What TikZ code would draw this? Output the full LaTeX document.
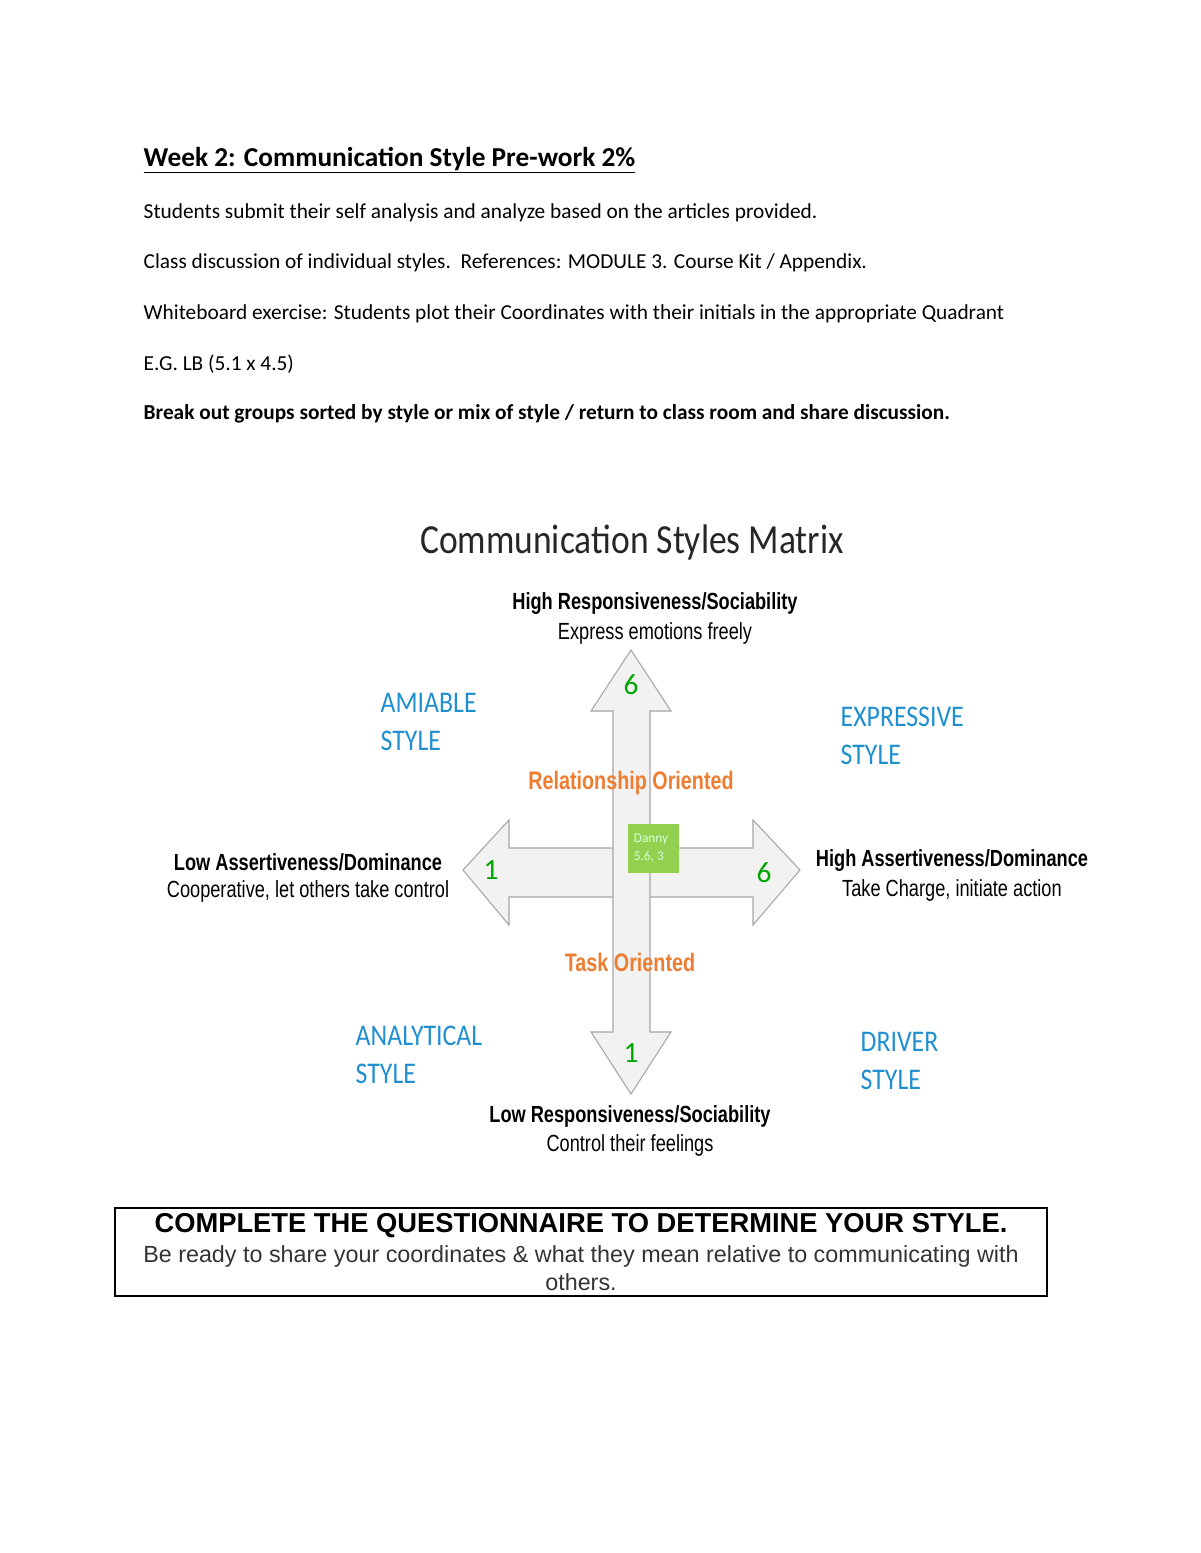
\documentclass[tikz,border=0pt]{standalone}
\usepackage{fontspec}
\setmainfont{Carlito}
\newfontfamily\arl{Liberation Sans}
\newfontfamily\arn[FakeStretch=0.78]{Liberation Sans}
\newfontfamily\crn[FakeStretch=0.86]{Carlito}
\definecolor{dgreen}{HTML}{92D050}
\definecolor{oor}{HTML}{ED7D31}
\definecolor{sblue}{HTML}{1F8FD0}
\begin{document}
\begin{tikzpicture}[x=0.75pt,y=-0.75pt,
  body/.style={anchor=west,font=\fontsize{16}{19}\selectfont},
  axb/.style={font=\arn\bfseries\fontsize{17.5}{20}\selectfont},
  axr/.style={font=\arn\fontsize{17.5}{20}\selectfont},
  sty/.style={anchor=west,text=sblue,font=\crn\fontsize{22.5}{28.5}\selectfont,align=left},
  num/.style={text=green!65!black,font=\fontsize{22}{24}\selectfont},
  ori/.style={text=oor,font=\arn\bfseries\fontsize{19}{22}\selectfont},
  arr/.style={fill=gray!10,draw=gray!70,line width=0.8pt}]
\useasboundingbox (0,0) rectangle (1200,1553);
\node[anchor=west,font=\bfseries\fontsize{20.5}{24}\selectfont] (t) at (139,160) {\underline{Week 2: Communication Style Pre-work 2\%}};
\node[body] (l1) at (139,213) {Students submit their self analysis and analyze based on the articles provided.};
\node[body] (l2) at (139,263) {Class discussion of individual styles.\ \ References: MODULE 3. Course Kit / Appendix.};
\node[body] (l3) at (139,314) {Whiteboard exercise: Students plot their Coordinates with their initials in the appropriate Quadrant};
\node[body] (l4) at (139,364) {E.G. LB (5.1 x 4.5)};
\node[body,font=\bfseries\fontsize{16}{19}\selectfont] (l5) at (139,414) {Break out groups sorted by style or mix of style / return to class room and share discussion.};
\node[font=\crn\fontsize{31}{36}\selectfont,text=black!85] (ttl) at (632,542) {Communication Styles Matrix};
% horizontal arrow
\draw[arr] (463,870) -- (509,820) -- (509,848) -- (753,848) -- (753,820) -- (800,870) -- (753,925) -- (753,897) -- (509,897) -- (509,925) -- cycle;
% vertical arrow
\draw[arr] (631,650) -- (671,711) -- (650,711) -- (650,1032) -- (671,1032) -- (631,1094) -- (591,1032) -- (613,1032) -- (613,711) -- (591,711) -- cycle;
\node[fill=dgreen,minimum width=38pt,minimum height=37pt,inner sep=0pt] (d) at (653.5,848.5) {};
\node[text=white!85!green,font=\fontsize{10}{14}\selectfont,align=left] (dt) at (651,848) {Danny\\5.6, 3};
\node[num] (n1) at (631,685) {6};
\node[num] (n2) at (631,1053) {1};
\node[num] (n3) at (491,870) {1};
\node[num] (n4) at (764,873) {6};
\node[ori] (ro) at (631,783) {Relationship Oriented};
\node[ori] (to) at (630,962) {Task Oriented};
\node[axb] (h1) at (655,604) {High Responsiveness/Sociability};
\node[axr] (h2) at (655,633) {Express emotions freely};
\node[axb] (b1) at (630,1116) {Low Responsiveness/Sociability};
\node[axr] (b2) at (630,1145) {Control their feelings};
\node[axb] (w1) at (308,862) {Low Assertiveness/Dominance};
\node[axr] (w2) at (308,891) {Cooperative, let others take control};
\node[axb] (e1) at (952,861) {High Assertiveness/Dominance};
\node[axr] (e2) at (952,890) {Take Charge, initiate action};
\node[sty] (s1) at (376,722) {AMIABLE\\STYLE};
\node[sty] (s2) at (836,736) {EXPRESSIVE\\STYLE};
\node[sty] (s3) at (351,1055) {ANALYTICAL\\STYLE};
\node[sty] (s4) at (856,1061) {DRIVER\\STYLE};
\draw[line width=1.2pt] (115,1208) rectangle (1047,1296);
\node[font=\arl\bfseries\fontsize{20.5}{22}\selectfont] (c1) at (581,1226) {COMPLETE THE QUESTIONNAIRE TO DETERMINE YOUR STYLE.};
\node[font=\arl\fontsize{17.5}{21}\selectfont,text=black!80,align=center] (c2) at (581,1268) {Be ready to share your coordinates \& what they mean relative to communicating with\\others.};
\end{tikzpicture}
\end{document}
